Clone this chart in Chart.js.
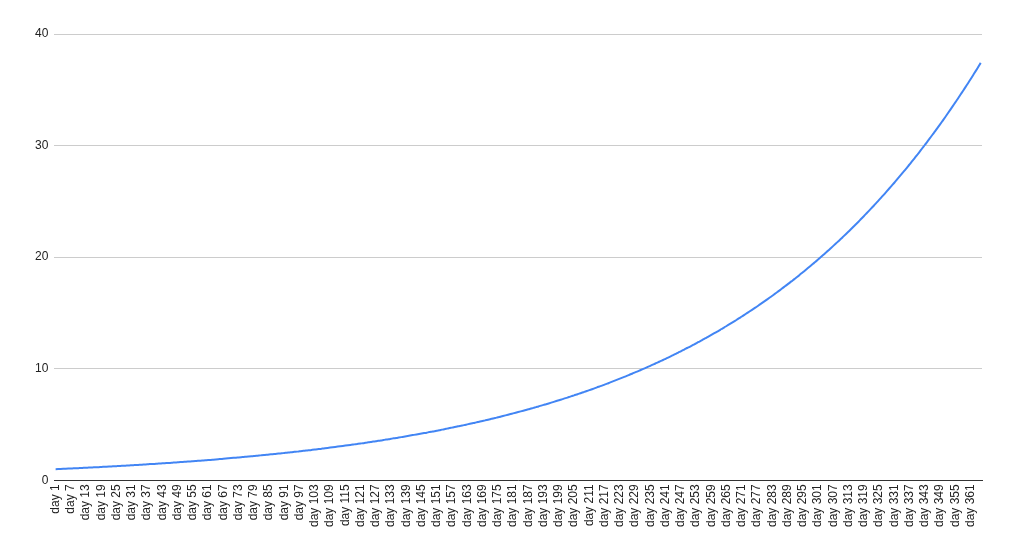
<!DOCTYPE html>
<html>
<head>
<meta charset="utf-8">
<script src="https://cdn.jsdelivr.net/npm/chart.js@4/dist/chart.umd.min.js"></script>
<style>
html,body{margin:0;padding:0;background:#fff;}
#wrap{width:1009px;height:557px;position:relative;}
</style>
</head>
<body>
<div id="wrap"><canvas id="c" width="1009" height="557"></canvas></div>
<script>
// Series values (day 1 .. day 365)
const values = [
1.00,1.01,1.02,1.03,1.04,1.05,1.06,1.07,1.08,1.09,
1.10,1.12,1.13,1.14,1.15,1.16,1.17,1.18,1.20,1.21,
1.22,1.23,1.24,1.26,1.27,1.28,1.30,1.31,1.32,1.33,
1.35,1.36,1.37,1.39,1.40,1.42,1.43,1.45,1.46,1.47,
1.49,1.50,1.52,1.53,1.55,1.56,1.58,1.60,1.61,1.63,
1.64,1.66,1.68,1.69,1.71,1.73,1.75,1.76,1.78,1.80,
1.82,1.83,1.85,1.87,1.89,1.91,1.93,1.95,1.97,1.99,
2.01,2.03,2.05,2.07,2.09,2.11,2.13,2.15,2.17,2.19,
2.22,2.24,2.26,2.28,2.31,2.33,2.35,2.38,2.40,2.42,
2.45,2.47,2.50,2.52,2.55,2.57,2.60,2.63,2.65,2.68,
2.70,2.73,2.76,2.79,2.81,2.84,2.87,2.90,2.93,2.96,
2.99,3.02,3.05,3.08,3.11,3.14,3.17,3.20,3.24,3.27,
3.30,3.33,3.37,3.40,3.43,3.47,3.50,3.54,3.57,3.61,
3.65,3.68,3.72,3.76,3.79,3.83,3.87,3.91,3.95,3.99,
4.03,4.07,4.11,4.15,4.19,4.23,4.27,4.32,4.36,4.40,
4.45,4.49,4.54,4.58,4.63,4.68,4.72,4.77,4.82,4.87,
4.91,4.96,5.01,5.06,5.11,5.16,5.22,5.27,5.32,5.37,
5.43,5.48,5.54,5.59,5.65,5.70,5.76,5.82,5.88,5.94,
6.00,6.06,6.12,6.18,6.24,6.30,6.36,6.43,6.49,6.56,
6.62,6.69,6.76,6.82,6.89,6.96,7.03,7.10,7.17,7.24,
7.32,7.39,7.46,7.54,7.61,7.69,7.77,7.84,7.92,8.00,
8.08,8.16,8.24,8.33,8.41,8.49,8.58,8.66,8.75,8.84,
8.93,9.02,9.11,9.20,9.29,9.38,9.48,9.57,9.67,9.76,
9.86,9.96,10.06,10.16,10.26,10.36,10.47,10.57,10.68,10.78,
10.89,11.00,11.11,11.22,11.33,11.45,11.56,11.68,11.80,11.91,
12.03,12.15,12.27,12.40,12.52,12.65,12.77,12.90,13.03,13.16,
13.29,13.42,13.56,13.69,13.83,13.97,14.11,14.25,14.39,14.54,
14.68,14.83,14.98,15.13,15.28,15.43,15.58,15.74,15.90,16.06,
16.22,16.38,16.54,16.71,16.88,17.04,17.22,17.39,17.56,17.74,
17.91,18.09,18.27,18.46,18.64,18.83,19.02,19.21,19.40,19.59,
19.79,19.99,20.19,20.39,20.59,20.80,21.01,21.22,21.43,21.64,
21.86,22.08,22.30,22.52,22.75,22.97,23.20,23.44,23.67,23.91,
24.15,24.39,24.63,24.88,25.13,25.38,25.63,25.89,26.15,26.41,
26.67,26.94,27.21,27.48,27.75,28.03,28.31,28.60,28.88,29.17,
29.46,29.76,30.05,30.36,30.66,30.97,31.27,31.59,31.90,32.22,
32.54,32.87,33.20,33.53,33.87,34.20,34.55,34.89,35.24,35.59,
35.95,36.31,36.67,37.04,37.41
];
// Categories: "day 1" .. "day 365"
const categories = values.map((_, i) => 'day ' + (i + 1));
// Only every 6th category label is shown on the axis
const labelEvery = 6;
// Y-axis ticks
const yTicks = [0, 10, 20, 30, 40];

const ctx = document.getElementById('c').getContext('2d');
new Chart(ctx, {
  type: 'line',
  data: {
    labels: categories,
    datasets: [{
      data: values,
      borderColor: '#4285F4',
      borderWidth: 2,
      pointRadius: 0,
      pointHoverRadius: 0,
      fill: false,
      tension: 0.4,
      cubicInterpolationMode: 'monotone'
    }]
  },
  options: {
    responsive: false,
    animation: false,
    devicePixelRatio: 1,
    layout: { padding: { top: 34, right: 27, left: 29, bottom: 26 } },
    plugins: { legend: { display: false }, tooltip: { enabled: false } },
    scales: {
      x: {
        offset: true,
        grid: { display: false, drawTicks: false },
        border: { display: true, color: '#333333', width: 1 },
        ticks: {
          autoSkip: false,
          minRotation: 90,
          maxRotation: 90,
          padding: 4,
          color: '#222222',
          font: { family: 'Liberation Sans, Arial, sans-serif', size: 12 },
          callback: function(v, i) { return i % labelEvery === 0 ? categories[i] : ''; }
        }
      },
      y: {
        min: yTicks[0],
        max: yTicks[yTicks.length - 1],
        afterBuildTicks: function(s) { s.ticks = yTicks.map(v => ({ value: v })); },
        grid: { color: '#cccccc', drawTicks: false, lineWidth: 1 },
        border: { display: false },
        ticks: {
          padding: 6,
          color: '#222222',
          font: { family: 'Liberation Sans, Arial, sans-serif', size: 12 }
        }
      }
    }
  }
});
</script>
</body>
</html>
